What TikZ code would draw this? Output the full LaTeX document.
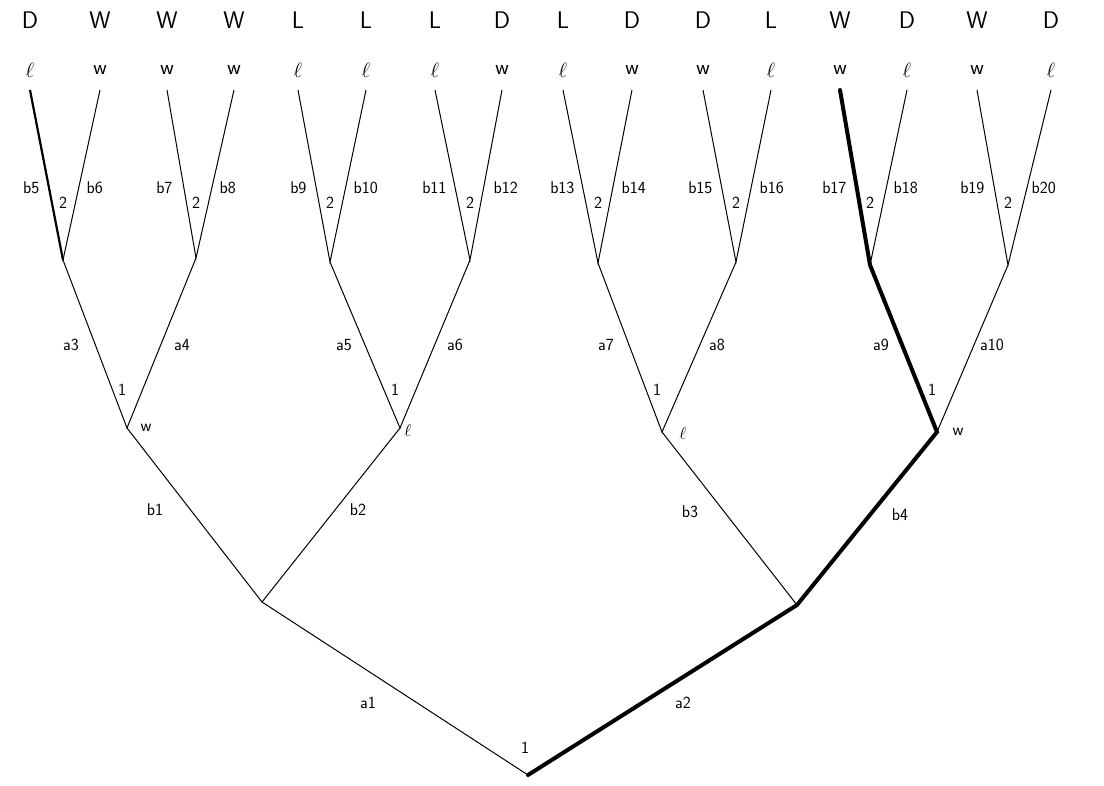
\documentclass[tikz,border=0pt]{standalone}
\usetikzlibrary{calc}
\tikzset{
  pt/.style={inner sep=0pt,minimum size=0pt},
  lab/.style={font=\fontsize{17}{19}\sffamily},
  mid/.style={font=\fontsize{21}{23}\sffamily},
  top/.style={font=\fontsize{24}{26}\sffamily},
  edge/.style={line width=1pt},
  bold/.style={line width=4pt,line cap=round}
}
\begin{document}
\begin{tikzpicture}[x=1pt,y=-1pt]
\useasboundingbox (0,0) rectangle (1104,786);

	% inner nodes
	\coordinate (r) at (528,775);
	\coordinate (n1) at (262,602);
	\coordinate (n2) at (797,605);
	\coordinate (m1) at (127,428);
	\coordinate (m2) at (400,428);
	\coordinate (m3) at (662,432);
	\coordinate (m4) at (937,432);
	\foreach \i/\x/\y in {1/63/260,2/196/258,3/330/262,4/470/260,5/598/263,6/736/262,7/870/265,8/1008/265}
		\coordinate (k\i) at (\x,\y);

	% leaves and outcomes
	\foreach \i/\x/\s/\o in {1/30/$\ell$/D,2/100/w/W,3/167/w/W,4/234/w/W,5/298/$\ell$/L,6/366/$\ell$/L,7/435/$\ell$/L,8/502/w/D,
	                         9/563/$\ell$/L,10/632/w/D,11/703/w/D,12/771/$\ell$/L,13/840/w/W,14/907/$\ell$/D,15/977/w/W,16/1051/$\ell$/D} {
		\coordinate (f\i) at (\x,90);
		\node[top] (o\i) at (\x,20) {\o};
		\node[mid] (s\i) at (\x,70) {\s};
	}

	% edges
	\draw[edge] (n1) -- (r);
	\draw[edge] (m1) -- (n1) -- (m2);
	\draw[edge] (m3) -- (n2);
	\draw[edge] (k1) -- (m1) -- (k2);
	\draw[edge] (k3) -- (m2) -- (k4);
	\draw[edge] (k5) -- (m3) -- (k6);
	\draw[edge] (m4) -- (k8);
	\foreach \i in {1,...,8} {
		\pgfmathtruncatemacro{\a}{2*\i-1}
		\pgfmathtruncatemacro{\b}{2*\i}
		\draw[edge] (f\a) -- (k\i) -- (f\b);
	}
	\draw[line width=2.2pt] (f1) -- (k1);
	\draw[bold] (r) -- (n2) -- (m4) -- (k7) -- (f13);

	% labels
	\node[lab] at (368,703) {a1};
	\node[lab] at (683,703) {a2};
	\node[lab] at (525,748) {1};
	\node[lab] at (155,510) {b1};
	\node[lab] at (358,510) {b2};
	\node[lab] at (690,512) {b3};
	\node[lab] at (900,515) {b4};
	\node[lab] at (146,428) {w};
	\node[lab] at (408,430) {$\ell$};
	\node[lab] at (683,433) {$\ell$};
	\node[lab] at (958,432) {w};
	\foreach \x/\p/\q [count=\i] in {127/3/4,400/5/6,662/7/8,937/9/10} {
		\node[lab] at (\x-56,345) {a\p};
		\node[lab] at (\x+55,345) {a\q};
		\node[lab] at (\x-5,390) {1};
	}
	\foreach \x [count=\i] in {63,196,330,470,598,736,870,1008} {
		\pgfmathtruncatemacro{\a}{2*\i+3}
		\pgfmathtruncatemacro{\b}{2*\i+4}
		\node[lab,anchor=east] at (\x-20,188) {b\a};
		\node[lab,anchor=west] at (\x+20,188) {b\b};
		\node[lab] at (\x,203) {2};
	}
\end{tikzpicture}
\end{document}
